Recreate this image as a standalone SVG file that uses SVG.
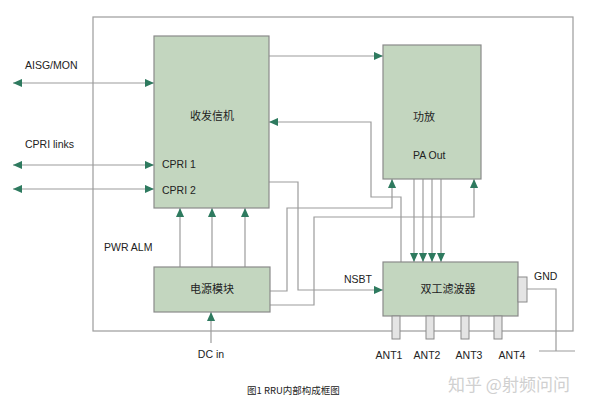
<svg xmlns="http://www.w3.org/2000/svg" width="591" height="411" viewBox="0 0 591 411">
<style>
.box{fill:#c3d6bf;stroke:#8a8a8a;stroke-width:1.2}
.ln{fill:none;stroke:#9c9c9c;stroke-width:1.2}
.t{font-family:"Liberation Sans","Noto Sans CJK SC",sans-serif;font-size:10.5px;fill:#222}
.c{font-family:"Noto Sans CJK SC","Liberation Sans",sans-serif;font-size:11px;fill:#222}
.port{fill:#e4e4e4;stroke:#8a8a8a;stroke-width:1}
</style>
<defs>
<marker id="ah" viewBox="0 0 10 10" refX="10" refY="5" markerWidth="9" markerHeight="9" markerUnits="userSpaceOnUse" orient="auto-start-reverse">
<path d="M0,0.5 L10,5 L0,9.5 z" fill="#2e7a5f"/>
</marker>
</defs>
<rect width="591" height="411" fill="#ffffff"/>
<g id="enclosure">
<rect x="93" y="17" width="480" height="314" fill="none" stroke="#9c9c9c" stroke-width="1.2"/>
</g>
<g id="connectors">
<line class="ln" x1="13" y1="83" x2="154" y2="83" marker-start="url(#ah)" marker-end="url(#ah)"/>
<line class="ln" x1="13" y1="165" x2="154" y2="165" marker-start="url(#ah)" marker-end="url(#ah)"/>
<line class="ln" x1="13" y1="189" x2="154" y2="189" marker-start="url(#ah)" marker-end="url(#ah)"/>
<line class="ln" x1="269" y1="56" x2="383" y2="56" marker-end="url(#ah)"/>
<polyline class="ln" points="401,262 401,197 371,197 371,122 269,122" marker-end="url(#ah)"/>
<polyline class="ln" points="269,182 298,182 298,290 383,290" marker-end="url(#ah)"/>
<polyline class="ln" points="270,291 287,291 287,208 392,208 392,179" marker-end="url(#ah)"/>
<polyline class="ln" points="270,305 314,305 314,217 474,217 474,179" marker-end="url(#ah)"/>
<line class="ln" x1="414" y1="179" x2="414" y2="262" marker-end="url(#ah)"/>
<line class="ln" x1="423" y1="179" x2="423" y2="262" marker-end="url(#ah)"/>
<line class="ln" x1="432" y1="179" x2="432" y2="262" marker-end="url(#ah)"/>
<line class="ln" x1="441" y1="179" x2="441" y2="262" marker-end="url(#ah)"/>
<line class="ln" x1="180" y1="267" x2="180" y2="208" marker-end="url(#ah)"/>
<line class="ln" x1="212" y1="267" x2="212" y2="208" marker-end="url(#ah)"/>
<line class="ln" x1="245" y1="267" x2="245" y2="208" marker-end="url(#ah)"/>
<line class="ln" x1="211" y1="343" x2="211" y2="312" marker-end="url(#ah)"/>
<polyline class="ln" points="527,289 556,289 556,351"/>
<line class="ln" x1="539" y1="351" x2="575" y2="351"/>
</g>
<g id="transceiver">
<rect class="box" x="154" y="36" width="115" height="172"/>
<text class="c" x="212" y="120" text-anchor="middle">收发信机</text>
<text class="t" x="162" y="168">CPRI 1</text>
<text class="t" x="162" y="194">CPRI 2</text>
</g>
<g id="pa">
<rect class="box" x="383" y="45" width="98" height="134"/>
<text class="c" x="413" y="121">功放</text>
<text class="t" x="413" y="159">PA Out</text>
</g>
<g id="power">
<rect class="box" x="154" y="267" width="116" height="45"/>
<text class="c" x="212" y="293" text-anchor="middle">电源模块</text>
</g>
<g id="duplexer">
<rect class="box" x="383" y="262" width="135" height="54"/>
<text class="c" x="448" y="293" text-anchor="middle">双工滤波器</text>
<rect class="port" x="518" y="277" width="9" height="25"/>
<rect class="port" x="392" y="316" width="8" height="23"/>
<rect class="port" x="426" y="316" width="8" height="23"/>
<rect class="port" x="461" y="316" width="8" height="23"/>
<rect class="port" x="494" y="316" width="8" height="23"/>
</g>
<g id="labels">
<text class="t" x="25" y="69">AISG/MON</text>
<text class="t" x="25" y="148">CPRI links</text>
<text class="t" x="104" y="251">PWR ALM</text>
<text class="t" x="211" y="358" text-anchor="middle">DC in</text>
<text class="t" x="344" y="283">NSBT</text>
<text class="t" x="534" y="280">GND</text>
<text class="t" x="389" y="359" text-anchor="middle">ANT1</text>
<text class="t" x="427" y="359" text-anchor="middle">ANT2</text>
<text class="t" x="469" y="359" text-anchor="middle">ANT3</text>
<text class="t" x="512" y="359" text-anchor="middle">ANT4</text>
<text class="c" x="247" y="393.5" style="font-size:9.5px">图1  RRU内部构成框图</text>
<text x="448" y="391" style="font-family:'Noto Sans CJK SC',sans-serif;font-size:17px;fill:#d0d0d0">知乎 @射频问问</text>
</g>
</svg>
